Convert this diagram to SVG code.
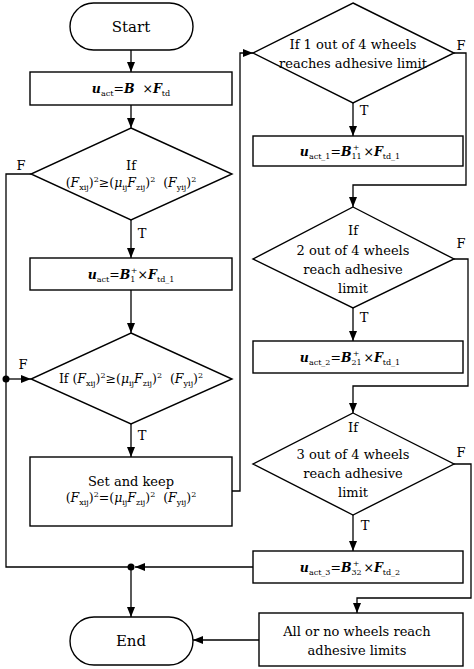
<svg xmlns="http://www.w3.org/2000/svg" width="474" height="669" viewBox="0 0 474 669">
<defs>
<style>
.n{fill:#fff;stroke:#000;stroke-width:1.4}
.c{fill:none;stroke:#000;stroke-width:1.3}
.t{font-family:"DejaVu Serif",serif;font-size:13px;text-anchor:middle;fill:#000}
.m{font-size:12.5px}
.s{font-size:8px}
.bi{font-weight:bold;font-style:italic}
.i{font-style:italic}
.l{font-family:"DejaVu Serif",serif;font-size:13px;text-anchor:middle;fill:#000}
</style>
<marker id="a" markerUnits="userSpaceOnUse" markerWidth="10" markerHeight="8" refX="10" refY="4" orient="auto"><path d="M0,0 L10,4 L0,8 z" fill="#000"/></marker>
</defs>
<rect width="474" height="669" fill="#fff"/>
<g id="connectors">
<path class="c" d="M131,50 V72" marker-end="url(#a)"/>
<path class="c" d="M131,105 V128" marker-end="url(#a)"/>
<path class="c" d="M131,220 V258" marker-end="url(#a)"/>
<path class="c" d="M131,290 V333" marker-end="url(#a)"/>
<path class="c" d="M131,424 V457" marker-end="url(#a)"/>
<path class="c" d="M31,174 H6 V567 H131"/>
<path class="c" d="M6,379 H31" marker-end="url(#a)"/>
<circle cx="6" cy="379" r="3.5" fill="#000"/>
<path class="c" d="M253,567 H135" marker-end="url(#a)"/>
<circle cx="131" cy="567" r="3.5" fill="#000"/>
<path class="c" d="M131,567 V617" marker-end="url(#a)"/>
<path class="c" d="M232,491 H240 V53 H253" marker-end="url(#a)"/>
<path class="c" d="M353,103 V136" marker-end="url(#a)"/>
<path class="c" d="M454,53 H466 V185 H353 V207" marker-end="url(#a)"/>
<path class="c" d="M353,308 V341" marker-end="url(#a)"/>
<path class="c" d="M454,259 H468 V386 H353 V413" marker-end="url(#a)"/>
<path class="c" d="M353,515 V551" marker-end="url(#a)"/>
<path class="c" d="M454,464 H471 V598 H357 V613" marker-end="url(#a)"/>
<path class="c" d="M259,640 H193" marker-end="url(#a)"/>
<text class="l" x="21" y="170">F</text>
<text class="l" x="23" y="369">F</text>
<text class="l" x="142" y="238">T</text>
<text class="l" x="142" y="440">T</text>
<text class="l" x="461" y="50">F</text>
<text class="l" x="461" y="248">F</text>
<text class="l" x="461" y="457">F</text>
<text class="l" x="364" y="115">T</text>
<text class="l" x="364" y="322">T</text>
<text class="l" x="365" y="530">T</text>
</g>
<g id="start">
<rect class="n" x="70" y="3" width="123" height="47" rx="23.5"/>
<text class="t" x="131" y="32" style="font-size:15px">Start</text>
</g>
<g id="box1">
<rect class="n" x="30" y="72" width="202" height="33"/>
<text class="t m" x="131" y="93"><tspan class="bi">u</tspan><tspan class="s" dy="3">act</tspan><tspan dy="-3">=</tspan><tspan class="bi">B</tspan><tspan>&#160;&#160;×</tspan><tspan class="bi">F</tspan><tspan class="s" dy="3">td</tspan></text>
</g>
<g id="diamond1">
<path class="n" d="M131,128 L232,174 L131,220 L31,174 Z"/>
<text class="t" x="131" y="170">If</text>
<text class="t m" x="131" y="187">(<tspan class="i">F</tspan><tspan class="s" dy="3">xij</tspan><tspan dy="-3">)</tspan><tspan class="s" dy="-5">2</tspan><tspan dy="5">≥(</tspan><tspan class="i">μ</tspan><tspan class="s" dy="3">ij</tspan><tspan class="i" dy="-3">F</tspan><tspan class="s" dy="3">zij</tspan><tspan dy="-3">)</tspan><tspan class="s" dy="-5">2</tspan><tspan dy="5">&#160;&#160;(</tspan><tspan class="i">F</tspan><tspan class="s" dy="3">yij</tspan><tspan dy="-3">)</tspan><tspan class="s" dy="-5">2</tspan></text>
</g>
<g id="box2">
<rect class="n" x="30" y="258" width="202" height="32"/>
<text class="t m" x="131" y="279"><tspan class="bi">u</tspan><tspan class="s" dy="3">act</tspan><tspan dy="-3">=</tspan><tspan class="bi">B</tspan><tspan class="s" dy="3">1</tspan><tspan class="s" dx="-4.5" dy="-9">+</tspan><tspan dy="6">×</tspan><tspan class="bi">F</tspan><tspan class="s" dy="3">td_1</tspan></text>
</g>
<g id="diamond2">
<path class="n" d="M131,333 L232,379 L131,424 L31,379 Z"/>
<text class="t m" x="131" y="383"><tspan>If&#160;</tspan>(<tspan class="i">F</tspan><tspan class="s" dy="3">xij</tspan><tspan dy="-3">)</tspan><tspan class="s" dy="-5">2</tspan><tspan dy="5">≥(</tspan><tspan class="i">μ</tspan><tspan class="s" dy="3">ij</tspan><tspan class="i" dy="-3">F</tspan><tspan class="s" dy="3">zij</tspan><tspan dy="-3">)</tspan><tspan class="s" dy="-5">2</tspan><tspan dy="5">&#160;&#160;(</tspan><tspan class="i">F</tspan><tspan class="s" dy="3">yij</tspan><tspan dy="-3">)</tspan><tspan class="s" dy="-5">2</tspan></text>
</g>
<g id="box3">
<rect class="n" x="30" y="457" width="202" height="69"/>
<text class="t" x="131" y="486">Set and keep</text>
<text class="t m" x="131" y="502">(<tspan class="i">F</tspan><tspan class="s" dy="3">xij</tspan><tspan dy="-3">)</tspan><tspan class="s" dy="-5">2</tspan><tspan dy="5">=(</tspan><tspan class="i">μ</tspan><tspan class="s" dy="3">ij</tspan><tspan class="i" dy="-3">F</tspan><tspan class="s" dy="3">zij</tspan><tspan dy="-3">)</tspan><tspan class="s" dy="-5">2</tspan><tspan dy="5">&#160;&#160;(</tspan><tspan class="i">F</tspan><tspan class="s" dy="3">yij</tspan><tspan dy="-3">)</tspan><tspan class="s" dy="-5">2</tspan></text>
</g>
<g id="end">
<rect class="n" x="70" y="617" width="123" height="48" rx="24"/>
<text class="t" x="131" y="646" style="font-size:15px">End</text>
</g>
<g id="diamondR1">
<path class="n" d="M353,3 L454,53 L353,103 L253,53 Z"/>
<text class="t" x="353" y="49">If 1 out of 4 wheels</text>
<text class="t" x="353" y="68">reaches adhesive limit</text>
</g>
<g id="boxR1">
<rect class="n" x="253" y="136" width="210" height="30"/>
<text class="t m" x="350" y="156"><tspan class="bi">u</tspan><tspan class="s" dy="3">act_1</tspan><tspan dy="-3">=</tspan><tspan class="bi">B</tspan><tspan class="s" dy="3">11</tspan><tspan class="s" dx="-9" dy="-9">+</tspan><tspan dx="4" dy="6">×</tspan><tspan class="bi">F</tspan><tspan class="s" dy="3">td_1</tspan></text>
</g>
<g id="diamondR2">
<path class="n" d="M353,207 L454,259 L353,308 L253,259 Z"/>
<text class="t" x="353" y="235">If</text>
<text class="t" x="353" y="255">2 out of 4 wheels</text>
<text class="t" x="353" y="274">reach adhesive</text>
<text class="t" x="353" y="293">limit</text>
</g>
<g id="boxR2">
<rect class="n" x="253" y="341" width="210" height="32"/>
<text class="t m" x="350" y="362"><tspan class="bi">u</tspan><tspan class="s" dy="3">act_2</tspan><tspan dy="-3">=</tspan><tspan class="bi">B</tspan><tspan class="s" dy="3">21</tspan><tspan class="s" dx="-9" dy="-9">+</tspan><tspan dx="4" dy="6">×</tspan><tspan class="bi">F</tspan><tspan class="s" dy="3">td_1</tspan></text>
</g>
<g id="diamondR3">
<path class="n" d="M353,413 L454,464 L353,515 L253,464 Z"/>
<text class="t" x="353" y="432">If</text>
<text class="t" x="353" y="459">3 out of 4 wheels</text>
<text class="t" x="353" y="478">reach adhesive</text>
<text class="t" x="353" y="497">limit</text>
</g>
<g id="boxR3">
<rect class="n" x="253" y="551" width="210" height="32"/>
<text class="t m" x="350" y="572"><tspan class="bi">u</tspan><tspan class="s" dy="3">act_3</tspan><tspan dy="-3">=</tspan><tspan class="bi">B</tspan><tspan class="s" dy="3">32</tspan><tspan class="s" dx="-9" dy="-9">+</tspan><tspan dx="4" dy="6">×</tspan><tspan class="bi">F</tspan><tspan class="s" dy="3">td_2</tspan></text>
</g>
<g id="boxR4">
<rect class="n" x="259" y="613" width="204" height="53"/>
<text class="t" x="357" y="636">All or no wheels reach</text>
<text class="t" x="357" y="655">adhesive limits</text>
</g>
</svg>
